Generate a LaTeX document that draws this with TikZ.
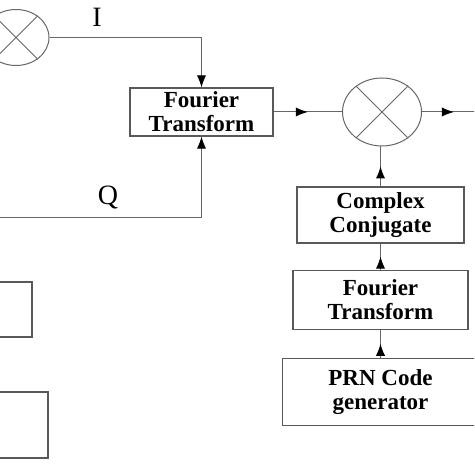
\documentclass[tikz,border=0pt]{standalone}
\usepackage{fontspec}
\setmainfont{Liberation Serif}
\usetikzlibrary{shapes.geometric,arrows.meta,positioning,decorations.markings}

\begin{document}
\begin{tikzpicture}[
    x=0.5pt, y=-0.5pt,
    font=\fontsize{11.5}{12}\selectfont\bfseries,
    blockbox/.style={draw=black!65, line width=0.6pt, align=center, inner sep=0pt},
    mixer/.style={draw=black!60, ellipse, line width=0.5pt, inner sep=0pt},
    wire/.style={draw=black!60, line width=0.5pt},
    headarrow/.style={-{Latex[length=6pt,width=4.6pt,color=black]}},
    midarrow/.style={postaction={decorate}, decoration={markings, mark=at position #1 with {\arrow{Latex[length=6pt,width=4.6pt,color=black]}}}},
    midarrow/.default=0.5,
    sigbox/.style={font=\fontsize{14}{14}\selectfont}
]
    \useasboundingbox (0,0) rectangle (474,474);
    \clip (0,0) rectangle (474,474);

    % Mélangeur I/Q et premier bloc
    \node[mixer, minimum width=33pt, minimum height=28pt] (mix1) at (16,37.5) {};
    \draw[wire] (mix1.135) -- (mix1.-45) (mix1.45) -- (mix1.-135);

    \node[blockbox, minimum width=71.5pt, minimum height=24pt] (ft1) at (201.5,112) {Fourier\\Transform};

    \node[sigbox] (ilabel) at (97,17) {I};
    \node[sigbox] (qlabel) at (108,198) {Q};
    \coordinate (qin) at (-10,218);

    \draw[wire, headarrow] (mix1.east) -| (ft1.north);
    \draw[wire, headarrow] (qin) -| (ft1.south);

    % Corrélation
    \node[mixer, minimum width=39.5pt, minimum height=34pt] (mix2) at (382,112) {};
    \draw[wire] (mix2.135) -- (mix2.-45) (mix2.45) -- (mix2.-135);
    \coordinate (out) at (480,112);

    \draw[wire, midarrow] (ft1.east) -- (mix2.west);
    \draw[wire, midarrow=0.55] (mix2.east) -- (out);

    % Chaîne du code PRN
    \node[blockbox, minimum width=83.5pt, minimum height=28pt] (cc) at (380.5,215) {Complex\\Conjugate};
    \node[blockbox, minimum width=87.5pt, minimum height=29.5pt, below=13pt of cc] (ft2) {Fourier\\Transform};
    \node[blockbox, minimum width=98pt, minimum height=33.5pt, below=14pt of ft2] (prn) {PRN Code\\generator};

    \draw[wire, midarrow] (cc.north) -- (cc.north |- mix2.south);
    \draw[wire, midarrow] (ft2.north) -- (cc.south);
    \draw[wire, midarrow] (prn.north) -- (ft2.south);

    % Blocs de gauche
    \node[blockbox, minimum width=40pt, minimum height=27.5pt] (lefta) at (-8,309.5) {};
    \node[blockbox, minimum width=48pt, minimum height=33pt] (leftb) at (0,425) {};

\end{tikzpicture}
\end{document}
